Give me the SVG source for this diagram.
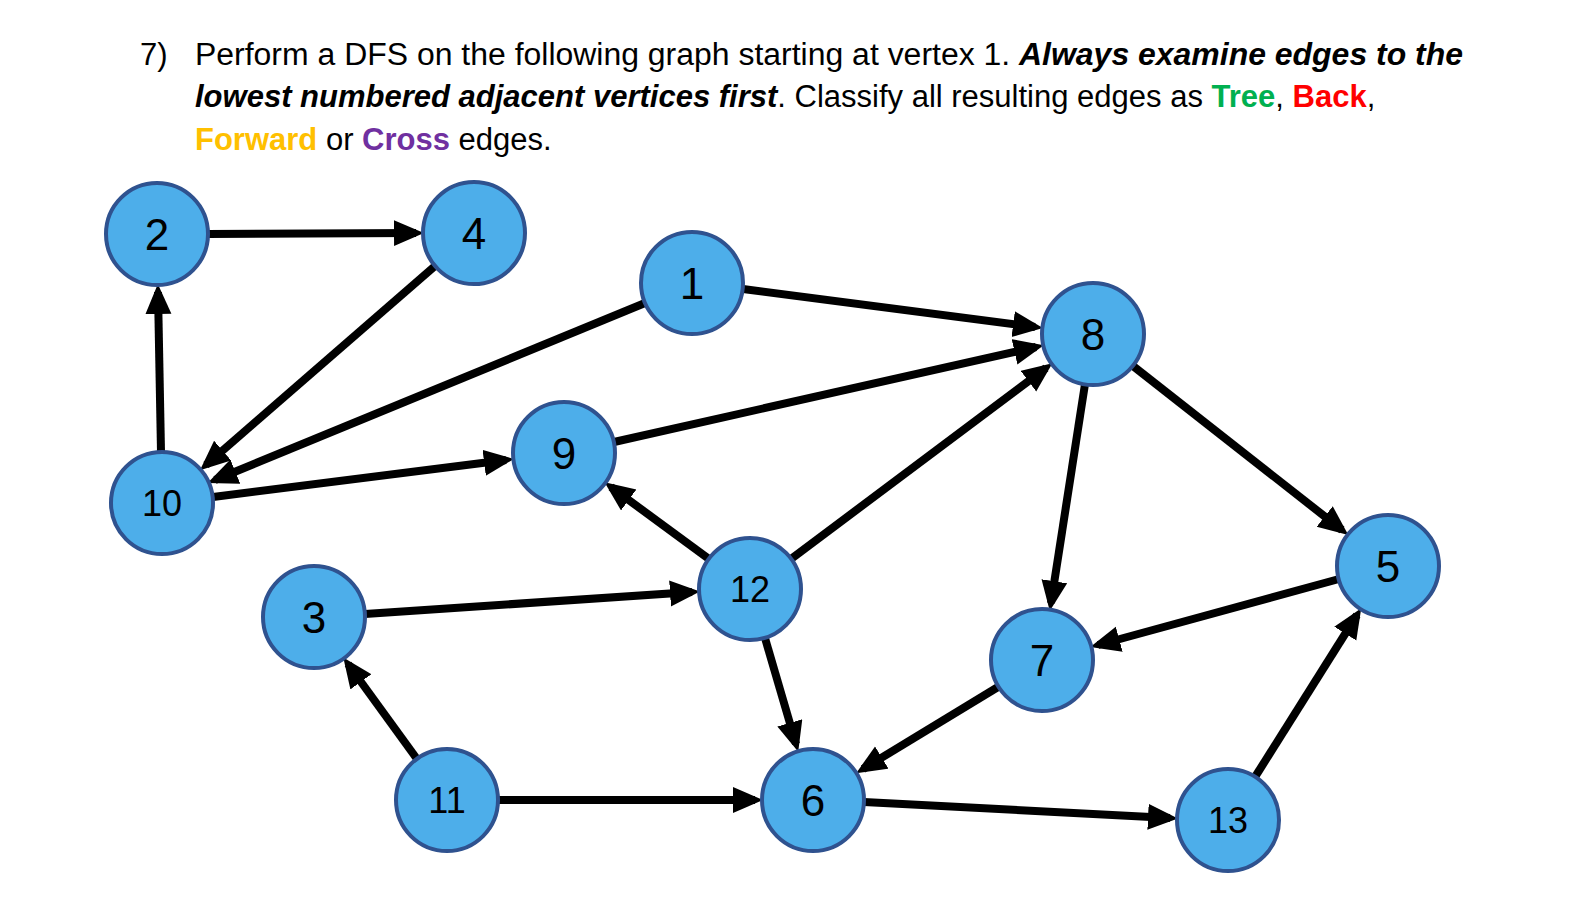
<svg xmlns="http://www.w3.org/2000/svg" width="1588" height="908" viewBox="0 0 1588 908">
<style>
.t{font-family:"Liberation Sans",Arial,sans-serif;font-size:31px;fill:#000}
.n circle{fill:#4DAEEA;stroke:#2F528F;stroke-width:4}
.n text{font-family:"Liberation Sans",Arial,sans-serif;font-size:44px;text-anchor:middle;fill:#000}
.n text.s{font-size:36px}
#edges line{stroke:#000;stroke-width:8;marker-end:url(#a)}
</style>
<defs><marker id="a" markerUnits="userSpaceOnUse" markerWidth="30" markerHeight="28" refX="22" refY="13" orient="auto"><path d="M0,0 L30,13 L0,26 z" fill="#000"/></marker></defs>
<rect width="1588" height="908" fill="#fff"/>
<text class="t" x="140" y="65">7)</text>
<text class="t" x="195" y="65" textLength="1268" lengthAdjust="spacingAndGlyphs">Perform a DFS on the following graph starting at vertex 1. <tspan font-weight="bold" font-style="italic">Always examine edges to the</tspan></text>
<text class="t" x="195" y="107"><tspan font-weight="bold" font-style="italic">lowest numbered adjacent vertices first</tspan>.  Classify all resulting edges as <tspan font-weight="bold" fill="#00B050">Tree</tspan>, <tspan font-weight="bold" fill="#FF0000">Back</tspan>,</text>
<text class="t" x="195" y="150"><tspan font-weight="bold" fill="#FFC000">Forward</tspan> or <tspan font-weight="bold" fill="#7030A0">Cross</tspan> edges.</text>
<g id="edges">
<line x1="208" y1="234" x2="416" y2="233"/>
<line x1="435" y1="266" x2="206" y2="465"/>
<line x1="161" y1="452" x2="158" y2="292"/>
<line x1="743" y1="289" x2="1035" y2="327"/>
<line x1="645" y1="303" x2="215" y2="480"/>
<line x1="213" y1="497" x2="506" y2="460"/>
<line x1="614" y1="442" x2="1036" y2="347"/>
<line x1="709" y1="559" x2="611" y2="487"/>
<line x1="791" y1="559" x2="1046" y2="368"/>
<line x1="1085" y1="384" x2="1051" y2="603"/>
<line x1="1133" y1="366" x2="1342" y2="530"/>
<line x1="365" y1="614" x2="692" y2="592"/>
<line x1="765" y1="638" x2="796" y2="744"/>
<line x1="1339" y1="579" x2="1098" y2="645"/>
<line x1="998" y1="687" x2="863" y2="769"/>
<line x1="417" y1="759" x2="348" y2="664"/>
<line x1="498" y1="800" x2="755" y2="800"/>
<line x1="864" y1="802" x2="1170" y2="818"/>
<line x1="1255" y1="777" x2="1357" y2="615"/>
</g>
<g id="n1" class="n"><circle cx="692" cy="283" r="51"/><text x="692" y="299">1</text></g>
<g id="n2" class="n"><circle cx="157" cy="234" r="51"/><text x="157" y="250">2</text></g>
<g id="n3" class="n"><circle cx="314" cy="617" r="51"/><text x="314" y="633">3</text></g>
<g id="n4" class="n"><circle cx="474" cy="233" r="51"/><text x="474" y="249">4</text></g>
<g id="n5" class="n"><circle cx="1388" cy="566" r="51"/><text x="1388" y="582">5</text></g>
<g id="n6" class="n"><circle cx="813" cy="800" r="51"/><text x="813" y="816">6</text></g>
<g id="n7" class="n"><circle cx="1042" cy="660" r="51"/><text x="1042" y="676">7</text></g>
<g id="n8" class="n"><circle cx="1093" cy="334" r="51"/><text x="1093" y="350">8</text></g>
<g id="n9" class="n"><circle cx="564" cy="453" r="51"/><text x="564" y="469">9</text></g>
<g id="n10" class="n"><circle cx="162" cy="503" r="51"/><text class="s" x="162" y="516">10</text></g>
<g id="n11" class="n"><circle cx="447" cy="800" r="51"/><text class="s" x="447" y="813">11</text></g>
<g id="n12" class="n"><circle cx="750" cy="589" r="51"/><text class="s" x="750" y="602">12</text></g>
<g id="n13" class="n"><circle cx="1228" cy="820" r="51"/><text class="s" x="1228" y="833">13</text></g>
</svg>
